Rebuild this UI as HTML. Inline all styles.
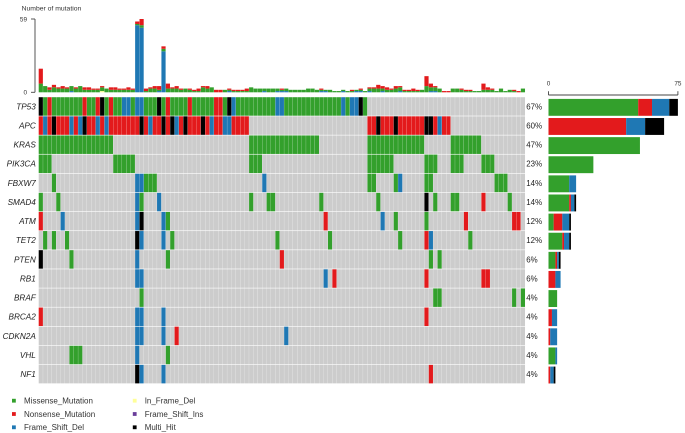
<!DOCTYPE html>
<html lang="en">
<head>
<meta charset="utf-8">
<title>Oncoplot</title>
<style>
html,body{margin:0;padding:0;background:#fff;width:685px;height:433px;overflow:hidden}
svg{display:block;font-family:"Liberation Sans",sans-serif;filter:blur(0.35px)}
</style>
</head>
<body>
<svg id="chart" xmlns="http://www.w3.org/2000/svg" width="685" height="433" viewBox="0 0 685 433"></svg>
<script>
// Mutation classes
const M = 1, N = 2, F = 3, I = 4, P = 5, H = 6;
const classNames = ["", "Missense_Mutation", "Nonsense_Mutation", "Frame_Shift_Del", "In_Frame_Del", "Frame_Shift_Ins", "Multi_Hit"];
const classColors = ["#cccccc", "#33a02c", "#e31a1c", "#1f78b4", "#ffff99", "#6a3d9a", "#000000"];
const sampleCount = 111;
const genes = ["TP53", "APC", "KRAS", "PIK3CA", "FBXW7", "SMAD4", "ATM", "TET2", "PTEN", "RB1", "BRAF", "BRCA2", "CDKN2A", "VHL", "NF1"];
const percentLabels = ["67%", "60%", "47%", "23%", "14%", "14%", "12%", "12%", "6%", "6%", "4%", "4%", "4%", "4%", "4%"];
const topTickLabels = [0, 59];
const rightTickLabels = [0, 75];

// Per-gene altered samples: [first sample, last sample, class]
const cellsTP53 = [[0,0,H],[1,1,M],[2,2,N],[3,9,M],[10,10,N],[11,12,M],[13,13,N],[14,14,H],[15,15,M],[16,16,N],[17,18,M],[19,20,F],[21,21,M],[22,23,F],[24,26,M],[27,27,H],[28,28,M],[29,29,N],[30,33,M],[34,34,N],[35,39,M],[40,41,N],[42,42,M],[43,43,H],[44,44,F],[45,53,M],[54,55,F],[56,68,M],[69,69,F],[70,70,M],[71,72,F],[73,73,H],[74,74,M]];
const cellsAPC = [[0,0,N],[1,1,F],[2,2,N],[3,3,H],[4,6,N],[7,7,F],[8,8,N],[9,9,F],[10,10,H],[11,12,N],[13,13,F],[14,14,N],[15,15,F],[16,22,N],[23,23,H],[24,24,N],[25,25,F],[26,27,N],[28,28,H],[29,29,N],[30,30,H],[31,31,F],[32,32,N],[33,33,H],[34,36,N],[37,37,H],[38,38,N],[39,39,F],[40,41,N],[42,43,F],[44,47,N],[75,76,N],[77,77,H],[78,80,N],[81,81,H],[82,87,N],[88,89,H],[90,90,N],[91,91,F],[92,93,N]];
const cellsKRAS = [[0,16,M],[48,63,M],[75,87,M],[94,100,M]];
const cellsPIK3CA = [[0,2,M],[17,21,M],[48,50,M],[75,80,M],[88,90,M],[94,96,M],[101,103,M]];
const cellsFBXW7 = [[3,3,M],[22,23,F],[24,26,M],[51,51,F],[75,76,M],[81,81,M],[82,82,F],[88,89,M],[104,106,M]];
const cellsSMAD4 = [[0,0,M],[4,4,M],[22,22,F],[23,23,M],[27,27,F],[48,48,M],[52,53,M],[64,64,M],[77,77,M],[88,88,H],[90,90,M],[94,95,M],[101,101,N],[107,107,M]];
const cellsATM = [[0,0,N],[5,5,F],[22,22,F],[23,23,H],[28,28,F],[29,29,M],[65,65,N],[78,78,F],[81,81,M],[88,88,M],[97,97,N],[108,109,N]];
const cellsTET2 = [[1,1,M],[3,3,M],[6,6,M],[22,22,H],[23,23,F],[28,28,F],[30,30,M],[54,54,M],[66,66,M],[82,82,M],[88,88,N],[89,89,F],[98,98,M]];
const cellsPTEN = [[0,0,H],[7,7,M],[22,22,F],[29,29,M],[55,55,N],[89,89,M],[91,91,M]];
const cellsRB1 = [[22,23,F],[65,65,F],[67,67,N],[88,88,N],[101,102,N]];
const cellsBRAF = [[23,23,M],[90,91,M],[108,108,M],[110,110,M]];
const cellsBRCA2 = [[0,0,N],[22,23,F],[28,28,F],[88,88,N]];
const cellsCDKN2A = [[22,23,F],[28,28,F],[31,31,N],[56,56,F]];
const cellsVHL = [[7,9,M],[22,22,F],[29,29,M]];
const cellsNF1 = [[22,22,H],[23,23,F],[28,28,F],[89,89,N]];
const geneCells = [cellsTP53, cellsAPC, cellsKRAS, cellsPIK3CA, cellsFBXW7, cellsSMAD4, cellsATM, cellsTET2, cellsPTEN, cellsRB1, cellsBRAF, cellsBRCA2, cellsCDKN2A, cellsVHL, cellsNF1];

// Mutations per sample (top bars)
const topFrameDel = [0,0,0,0,0,0,0,1,0,0,0,0,0,0,0,0,0,0,0,0,0,0,54,52,0,0,0,1,33,0,0,0,0,0,0,0,0,0,0,0,0,0,0,1,0,0,0,0,0,0,0,1,0,0,1,1,1,0,0,0,0,0,0,0,1,1,0,0,0,1,0,0,1,1,0,1,0,0,1,0,0,0,1,0,0,0,0,0,0,1,1,0,0,0,0,0,0,0,0,0,0,0,0,0,0,0,0,0,0,0,0];
const topInFrame = [0,0,0,0,0,0,0,0,0,0,0,0,0,0,1,0,0,0,0,0,0,0,0,0,0,0,0,0,0,0,0,0,0,0,0,0,0,0,0,0,0,0,0,0,0,0,0,0,0,0,0,0,0,0,0,0,0,0,0,0,0,0,0,0,0,0,0,0,0,0,0,0,0,0,0,0,0,0,0,0,0,0,0,0,0,0,0,0,0,0,0,0,0,0,0,0,0,0,0,0,0,0,0,0,0,0,0,0,0,0,0];
const topMissense = [7,5,2,4,3,3,3,4,3,5,2,2,2,2,3,3,2,2,2,2,2,2,1,2,1,3,3,1,2,3,3,3,2,3,2,1,1,4,3,4,0,0,2,1,1,1,1,1,4,3,3,2,3,3,2,1,2,2,2,2,2,3,3,2,1,1,2,1,1,1,1,1,1,1,1,2,3,3,2,2,2,3,3,1,1,1,1,2,5,3,3,3,0,0,3,3,2,1,1,1,1,2,2,2,1,3,1,2,1,0,3];
const topNonsense = [12,0,2,2,1,2,1,0,1,0,2,2,1,1,1,0,2,2,1,1,2,1,2,5,2,1,2,3,2,4,1,2,1,0,1,1,2,1,2,0,2,2,0,1,1,1,1,2,0,0,0,0,0,0,0,1,0,0,0,0,0,0,0,0,1,0,0,0,0,0,0,1,0,1,0,1,1,3,2,2,1,2,1,1,1,2,1,0,8,3,1,0,1,1,0,0,1,1,1,0,0,5,2,1,0,0,0,0,1,1,0];
const topSeries = [
  { cls: F, values: topFrameDel },
  { cls: I, values: topInFrame },
  { cls: M, values: topMissense },
  { cls: N, values: topNonsense }
];
const rightStackOrder = [M, N, F, H];

const svg = document.getElementById("chart");
const NS = "http://www.w3.org/2000/svg";
function mk(tag, attrs, parent) {
  const e = document.createElementNS(NS, tag);
  for (const k in attrs) e.setAttribute(k, attrs[k]);
  (parent || svg).appendChild(e);
  return e;
}

// Axis functions
const xCol = i => 38.6 + i * 4.383;
const colW = 4.383;
const yRow = r => 97.2 + r * 19.12;
const rowH = 18.5;
const topY = v => 92.3 - v * (73.3 / 59);
const rightX = v => 548.5 + v * (129.4 / 75);

// Heatmap
const heatmap = mk("g", {});


genes.forEach((gene, r) => {
  const row = new Array(sampleCount).fill(0);
  geneCells[r].forEach(run => { for (let i = run[0]; i <= run[1]; i++) row[i] = run[2]; });
  row.forEach((cls, i) => {
    const cell = mk("rect", { x: xCol(i) + 0.1, y: yRow(r), width: colW - 0.2, height: rowH, fill: classColors[cls] }, heatmap);
    
    
  });

  const label = mk("text", { x: 35.8, y: yRow(r) + rowH / 2 + 2.9, "font-size": 8.2, "font-style": "italic", "text-anchor": "end", fill: "#222" });
  label.textContent = gene;
  
  

  const pct = mk("text", { x: 526.3, y: yRow(r) + rowH / 2 + 2.9, "font-size": 7.9, fill: "#222" });
  pct.textContent = percentLabels[r];
  
  

  // Right-hand stacked bar derived from the gene's cells
  let acc = 0;
  rightStackOrder.forEach(c => {
    const count = row.filter(v => v === c).length;
    if (!count) return;
    const bar = mk("rect", { x: rightX(acc), y: yRow(r) + 1.7, width: rightX(acc + count) - rightX(acc), height: 16.9, fill: classColors[c] });
    
    
    acc += count;
  });
});

// Top stacked bars
for (let i = 0; i < sampleCount; i++) {
  let acc = 0;
  topSeries.forEach(s => {
    const v = s.values[i];
    if (!v) return;
    const bar = mk("rect", { x: xCol(i) + 0.1, y: topY(acc + v), width: colW - 0.2, height: topY(acc) - topY(acc + v), fill: classColors[s.cls] });
    
    
    acc += v;
  });
}

// Top axis
const axisColor = "#444";
const topAxis = mk("line", { x1: 35, x2: 35, y1: topY(topTickLabels[0]), y2: topY(topTickLabels[1]), stroke: axisColor, "stroke-width": 0.9 });


topTickLabels.forEach(t => {
  const tick = mk("line", { x1: 31, x2: 35, y1: topY(t), y2: topY(t), stroke: axisColor, "stroke-width": 0.9 });
  
  
  const lab = mk("text", { x: 27, y: topY(t) + 2.3, "font-size": 6.4, "text-anchor": "end", fill: "#333" });
  lab.textContent = t;
  
  
});
const topTitle = mk("text", { x: 21.6, y: 10.4, "font-size": 6.8, fill: "#333" });
topTitle.textContent = "Number of mutation";



// Right axis
const rightAxis = mk("line", { x1: rightX(rightTickLabels[0]), x2: rightX(rightTickLabels[1]), y1: 95, y2: 95, stroke: axisColor, "stroke-width": 0.9 });


rightTickLabels.forEach(t => {
  const tick = mk("line", { x1: rightX(t), x2: rightX(t), y1: 91.2, y2: 95, stroke: axisColor, "stroke-width": 0.9 });
  
  
  const lab = mk("text", { x: rightX(t), y: 85.6, "font-size": 6.4, "text-anchor": "middle", fill: "#333" });
  lab.textContent = t;
  
  
});

// Legend
const legendItems = [
  { cls: M, col: 0, row: 0 },
  { cls: N, col: 0, row: 1 },
  { cls: F, col: 0, row: 2 },
  { cls: I, col: 1, row: 0 },
  { cls: P, col: 1, row: 1 },
  { cls: H, col: 1, row: 2 }
];
legendItems.forEach(it => {
  const sx = it.col ? 132.8 : 12;
  const ty = 400.7 + it.row * 13.3;
  const swatch = mk("rect", { x: sx, y: ty - 1.9, width: 3.8, height: 3.8, fill: classColors[it.cls] });
  
  
  const t = mk("text", { x: it.col ? 144.7 : 24, y: ty + 2.8, "font-size": 8, fill: "#333" });
  t.textContent = classNames[it.cls];
  
  
});
</script>
</body>
</html>
